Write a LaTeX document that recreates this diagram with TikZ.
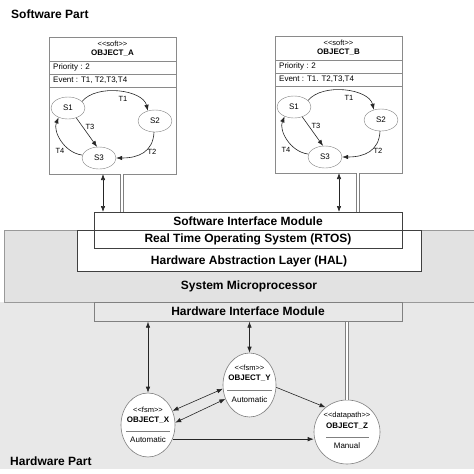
\documentclass[tikz,border=0pt]{standalone}
\usepackage{fontspec}
\setmainfont{Liberation Sans}
\usetikzlibrary{arrows.meta,shapes.geometric,calc}
\definecolor{bggray}{HTML}{E8E8E8}
\definecolor{mpgray}{HTML}{E2E2E2}
\definecolor{linegray}{HTML}{8A8A8A}
\definecolor{darkline}{HTML}{404040}
\tikzset{
  title/.style={font=\bfseries\fontsize{12}{14}\selectfont, inner sep=0, anchor=west},
  layer/.style={font=\bfseries\fontsize{12}{14}\selectfont, inner sep=0},
  objbox/.style={draw=linegray, line width=0.8pt, minimum width=127pt, minimum height=137pt, inner sep=0, anchor=north west},
  stereo/.style={font=\fontsize{7.5}{8}\selectfont, inner sep=0},
  modeval/.style={font=\fontsize{8}{9}\selectfont, inner sep=0},
  objname/.style={font=\bfseries\fontsize{8}{9}\selectfont, inner sep=0},
  attr/.style={font=\fontsize{8}{9}\selectfont, inner sep=0, anchor=west},
  state/.style={ellipse, draw=gray, minimum width=34pt, minimum height=22pt, inner sep=0, font=\fontsize{8}{9}\selectfont},
  tlabel/.style={font=\fontsize{7.5}{9}\selectfont, inner sep=0},
  trans/.style={draw=black!85, line width=0.6pt, -{Latex[length=6pt,width=4.5pt]}},
  link/.style={draw=black!85, line width=0.6pt, {Latex[length=6pt,width=4.5pt]}-{Latex[length=6pt,width=4.5pt]}},
  dbl/.style={draw=black!50, double=white, double distance=1.6pt, line width=0.8pt},
  hwobj/.style={ellipse, draw=gray, fill=white, inner sep=0, line width=0.6pt},
  divline/.style={draw=gray, line width=0.6pt},
  layerbox/.style={draw=darkline, line width=1pt, inner sep=0, anchor=north west},
}
\newcommand\SoftObj[5]{%
  \begin{scope}[shift={(#2,#3)}]
    \node[objbox] (#1) at (0,0) {};
    \draw[linegray, line width=0.8pt] (0,24) -- (127,24) (0,37) -- (127,37) (0,50) -- (127,50);
    \node[stereo] (#1-st) at (63.5,7) {<{}<soft>{}>};
    \node[objname] (#1-nm) at (63.5,16.5) {OBJECT\_#4};
    \node[attr] (#1-pr) at (4,30.5) {Priority : 2};
    \node[attr] (#1-ev) at (4,43.5) {#5};
    \node[state] (#1-s1) at (19,71) {S1};
    \node[state] (#1-s2) at (106,84) {S2};
    \node[state] (#1-s3) at (50,121) {S3};
    \draw[trans] (#1-s1.25) .. controls +(15,-18) and +(-5,-21) .. (#1-s2.125);
    \draw[trans] (#1-s2.-95) .. controls +(-1,20) and +(22,0) .. (#1-s3.east);
    \draw[trans] (#1-s1.-50) -- (#1-s3.100);
    \draw[trans] (#1-s3.170) .. controls +(-18,-2) and +(-6,14) .. (#1-s1.-135);
    \node[tlabel] (#1-t1) at (74,62) {T1};
    \node[tlabel] (#1-t3) at (41,90) {T3};
    \node[tlabel] (#1-t4) at (11,114) {T4};
    \node[tlabel] (#1-t2) at (103,115) {T2};
  \end{scope}}
\begin{document}
\begin{tikzpicture}[x=1pt,y=-1pt]
\useasboundingbox (0,0) rectangle (474,474);
% hardware background
\node[fill=bggray, minimum width=474pt, minimum height=167pt, inner sep=0, anchor=north west] (hwarea) at (0,302) {};
\node[draw=gray!80, fill=mpgray, line width=0.6pt, minimum width=472pt, minimum height=72pt, inner sep=0, anchor=north west] (mp) at (4,230) {};
\node[layerbox, fill=white, minimum width=344pt, minimum height=41pt] (hal) at (77,230) {};
\node[layerbox, minimum width=308pt, minimum height=36pt] (sim) at (94,212) {};
\node[draw=gray, line width=0.7pt, inner sep=0, anchor=north west, minimum width=308pt, minimum height=19pt] (him) at (94,302) {};

\node[layer] (sim-t) at (248,221) {Software Interface Module};
\node[layer] (rtos-t) at (248,239.5) {Real Time Operating System (RTOS)};
\node[layer] (hal-t) at (249,261) {Hardware Abstraction Layer (HAL)};
\node[layer] (mp-t) at (249,286) {System Microprocessor};
\node[layer] (him-t) at (248,311.5) {Hardware Interface Module};

\node[title] (swpart) at (11,14) {Software Part};
\node[title] (hwpart) at (10,461) {Hardware Part};

% software objects
\SoftObj{oa}{49}{37}{A}{Event : T1, T2,T3,T4}
\SoftObj{ob}{275}{36}{B}{Event : T1. T2,T3,T4}

\coordinate (oa-c1) at (103,174);
\coordinate (oa-c2) at (122,174);
\coordinate (ob-c1) at (339,173);
\coordinate (ob-c2) at (358,173);
\draw[link] (oa-c1) -- (oa-c1 |- sim.north);
\draw[dbl] (oa-c2) -- (oa-c2 |- sim.north);
\draw[link] (ob-c1) -- (ob-c1 |- sim.north);
\draw[dbl] (ob-c2) -- (ob-c2 |- sim.north);

% hardware objects
\node[hwobj, minimum width=54pt, minimum height=64pt] (ox) at (148,425) {};
\node[hwobj, minimum width=53pt, minimum height=64pt] (oy) at (249.5,385) {};
\node[hwobj, minimum width=66pt, minimum height=64pt] (oz) at (347,432) {};

\node[stereo] (ox-st) at (148,410) {<{}<fsm>{}>};
\node[objname] (ox-nm) at (148,420) {OBJECT\_X};
\draw[divline] (126,431) -- (170,431);
\node[modeval] (ox-at) at (148,439.5) {Automatic};

\node[stereo] (oy-st) at (249.5,368) {<{}<fsm>{}>};
\node[objname] (oy-nm) at (249.5,378) {OBJECT\_Y};
\draw[divline] (227,390) -- (272,390);
\node[modeval] (oy-at) at (249.5,399.5) {Automatic};

\node[stereo] (oz-st) at (347,416) {<{}<datapath>{}>};
\node[objname] (oz-nm) at (347,426) {OBJECT\_Z};
\draw[divline] (326,437) -- (369,437);
\node[modeval] (oz-at) at (347,446) {Manual};

\draw[link] (ox.north |- him.south) -- (ox.north);
\draw[link] (oy.north |- him.south) -- (oy.north);
\draw[dbl] (oz.north |- him.south) -- (oz.north);

\draw[link] (ox.30) -- (oy.188);
\draw[link] (ox.5) -- (oy.210);
\draw[trans] (oy.-5) -- (oz.131);
\draw[trans] (ox.-30) -- (ox.-30 -| oz.west);
\end{tikzpicture}
\end{document}
